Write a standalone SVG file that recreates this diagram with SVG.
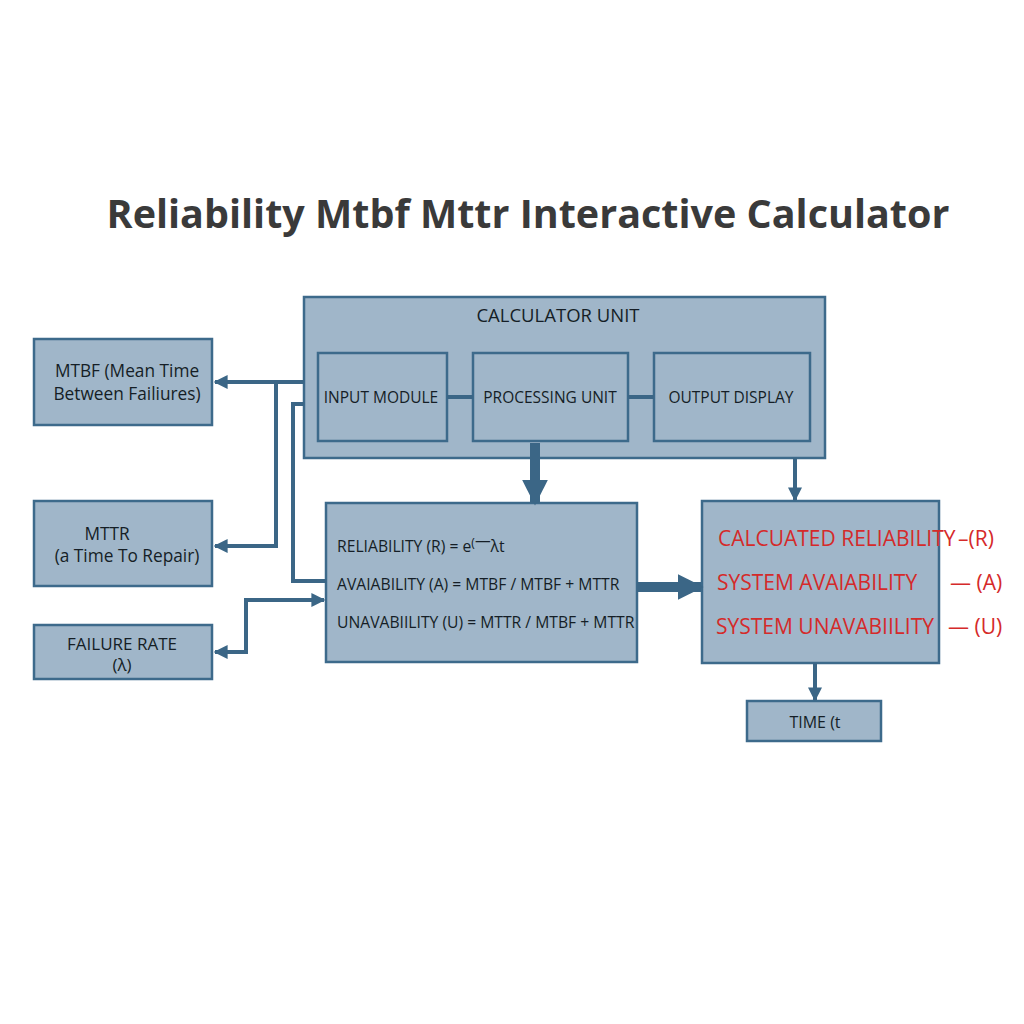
<svg xmlns="http://www.w3.org/2000/svg" width="1024" height="1024" viewBox="0 0 1024 1024">
<defs>
<style>
.box{fill:#a0b6c9;stroke:#3d6a8b;stroke-width:2.5}
.t{font-family:"Open Sans","Noto Sans",sans-serif;fill:#151e26}
.r{font-family:"Open Sans","Noto Sans",sans-serif;font-size:21px;fill:#d52a2a}
.ln{fill:none;stroke:#3b6686;stroke-width:4}
.thick{fill:none;stroke:#3b6686;stroke-width:10}
</style>
<marker id="ah" viewBox="0 0 10 10" refX="9" refY="5" markerWidth="3.5" markerHeight="3.5" orient="auto-start-reverse" markerUnits="strokeWidth"><path d="M0,0L10,5L0,10z" fill="#3b6686"/></marker>
<marker id="ahb" viewBox="0 0 10 10" refX="9" refY="5" markerWidth="2.6" markerHeight="2.6" orient="auto" markerUnits="strokeWidth"><path d="M0,0L10,5L0,10z" fill="#3b6686"/></marker>
</defs>
<rect width="1024" height="1024" fill="#ffffff"/>
<text x="528" y="228" text-anchor="middle" font-family="Open Sans, Noto Sans, sans-serif" font-weight="bold" font-size="39.5" fill="#3a3a3a">Reliability Mtbf Mttr Interactive Calculator</text>

<g id="calculator-unit">
<rect class="box" x="304" y="297" width="521" height="161"/>
<text class="t" x="558" y="322" text-anchor="middle" font-size="18.5">CALCULATOR UNIT</text>
</g>
<g id="input-module">
<rect class="box" x="318" y="353" width="129" height="88"/>
<text class="t" x="381" y="403" text-anchor="middle" font-size="15.5">INPUT MODULE</text>
</g>
<g id="processing-unit">
<rect class="box" x="473" y="353" width="155" height="88"/>
<text class="t" x="550" y="403" text-anchor="middle" font-size="15.5">PROCESSING UNIT</text>
</g>
<g id="output-display">
<rect class="box" x="654" y="353" width="156" height="88"/>
<text class="t" x="731" y="403" text-anchor="middle" font-size="15.5">OUTPUT DISPLAY</text>
</g>
<g id="mtbf">
<rect class="box" x="34" y="339" width="178" height="86"/>
<text class="t" x="127" y="377" text-anchor="middle" font-size="17.3">MTBF (Mean Time</text>
<text class="t" x="127" y="400" text-anchor="middle" font-size="17.3">Between Failiures)</text>
</g>
<g id="mttr">
<rect class="box" x="34" y="501" width="178" height="85"/>
<text class="t" x="107" y="540" text-anchor="middle" font-size="17.3">MTTR</text>
<text class="t" x="127" y="562" text-anchor="middle" font-size="17.3">(a Time To Repair)</text>
</g>
<g id="failure-rate">
<rect class="box" x="34" y="625" width="178" height="54"/>
<text class="t" x="122" y="650" text-anchor="middle" font-size="17">FAILURE RATE</text>
<text class="t" x="122" y="671" text-anchor="middle" font-size="17">(λ)</text>
</g>
<g id="formulas">
<rect class="box" x="326" y="503" width="311" height="159"/>
<text class="t" x="337" y="552" font-size="15.7">RELIABILITY (R) = e<tspan dy="-5" font-size="12">(</tspan><tspan dy="-1">—</tspan><tspan dy="6">λt</tspan></text>
<text class="t" x="337" y="590" font-size="15.7">AVAIABILITY (A) = MTBF / MTBF + MTTR</text>
<text class="t" x="337" y="628" font-size="15.7">UNAVABIILITY (U) = MTTR / MTBF + MTTR</text>
</g>
<g id="results">
<rect class="box" x="702" y="501" width="237" height="162"/>
<text class="r" x="718" y="546">CALCUATED RELIABILITY</text>
<text class="r" x="958" y="546">–(R)</text>
<text class="r" x="717" y="590">SYSTEM AVAIABILITY</text>
<text class="r" x="950" y="590">— (A)</text>
<text class="r" x="716" y="634">SYSTEM UNAVABIILITY</text>
<text class="r" x="948" y="634">— (U)</text>
</g>
<g id="time">
<rect class="box" x="747" y="701" width="134" height="40"/>
<text class="t" x="815" y="728" text-anchor="middle" font-size="16">TIME (t</text>
</g>

<g id="connectors">
<line class="ln" x1="447" y1="397" x2="473" y2="397"/>
<line class="ln" x1="628" y1="397" x2="654" y2="397"/>
<path class="ln" d="M304,382 H215" marker-end="url(#ah)"/>
<path class="ln" d="M276,382 V546 H215" marker-end="url(#ah)"/>
<path class="ln" d="M304,404 H293 V581 H326"/>
<path class="ln" d="M215,652 H246 V600 H324" marker-start="url(#ah)" marker-end="url(#ah)"/>
<path class="thick" d="M535,443 V503" marker-end="url(#ahb)"/>
<path class="thick" d="M637,587 H701" marker-end="url(#ahb)"/>
<path class="ln" d="M795,458 V500" marker-end="url(#ah)"/>
<path class="ln" d="M815,663 V700" marker-end="url(#ah)"/>
</g>
</svg>
